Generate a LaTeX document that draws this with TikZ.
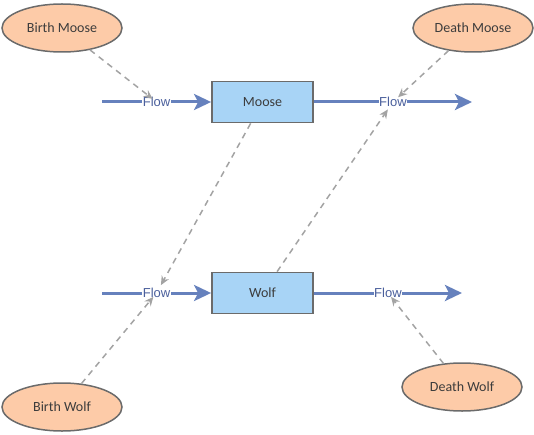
\documentclass[tikz,border=0pt]{standalone}
\usepackage{fontspec}
\setmainfont{Carlito}
\newfontfamily\flowfont{Liberation Sans}
\usetikzlibrary{shapes.geometric,arrows.meta}
\definecolor{stockblue}{HTML}{A8D4F6}
\definecolor{peach}{HTML}{FDCBA8}
\definecolor{edgegray}{HTML}{6B6B6B}
\definecolor{labelgray}{HTML}{3C3C3C}
\definecolor{flowblue}{HTML}{6681BD}
\definecolor{flowtext}{HTML}{4A5F9C}
\definecolor{linkgray}{HTML}{A3A3A3}

\tikzset{
  stock/.style={draw=edgegray, line width=1.8pt, fill=stockblue, minimum width=101pt, minimum height=41pt, text=labelgray, font=\fontsize{14}{16}\selectfont},
  source/.style={ellipse, draw=edgegray, line width=1.5pt, fill=peach, minimum width=120pt, minimum height=48pt, text=labelgray, font=\fontsize{14}{16}\selectfont},
  flow/.style={draw=flowblue, line width=3pt, -{Stealth[length=17pt,width=16pt,inset=4pt]}},
  flowlbl/.style={fill=white, inner sep=0.5pt, text=flowtext, font=\flowfont\fontsize{13}{15}\selectfont},
  link/.style={draw=linkgray, line width=1.5pt, dash pattern=on 6pt off 5pt, -{Stealth[length=9pt,width=8pt]}, shorten >=5pt}
}

\begin{document}
\begin{tikzpicture}[x=1pt,y=1pt]
\useasboundingbox (0,0) rectangle (534,434);
% Stocks
\node[stock] (moose) at (262.5,332) {Moose};
\node[stock] (wolf) at (262.5,141) {Wolf};
% Sources and sinks
\node[source] (bmoose) at (62,406) {Birth Moose};
\node[source] (dmoose) at (473,406) {Death Moose};
\node[source] (bwolf) at (62,27) {Birth Wolf};
\node[source] (dwolf) at (462,47) {Death Wolf};
% Open ends of the flows
\coordinate (min) at (102,332);
\coordinate (mout) at (472,332);
\coordinate (win) at (102,141);
\coordinate (wout) at (462,141);
% Flows
\draw[flow] (min) -- node[flowlbl] (fmin) {Flow} (moose);
\draw[flow] (moose) -- node[flowlbl] (fmout) {Flow} (mout);
\draw[flow] (win) -- node[flowlbl] (fwin) {Flow} (wolf);
\draw[flow] (wolf) -- node[flowlbl] (fwout) {Flow} (wout);
% Links
\draw[link] (bmoose) -- (fmin.center);
\draw[link, shorten >=7pt] (dmoose) -- (fmout.center);
\draw[link, shorten >=9pt] (moose) -- (fwin.center);
\draw[link, shorten >=9pt] (wolf) -- (fmout.center);
\draw[link] (bwolf) -- (fwin.center);
\draw[link] (dwolf) -- (fwout.center);
\end{tikzpicture}
\end{document}
